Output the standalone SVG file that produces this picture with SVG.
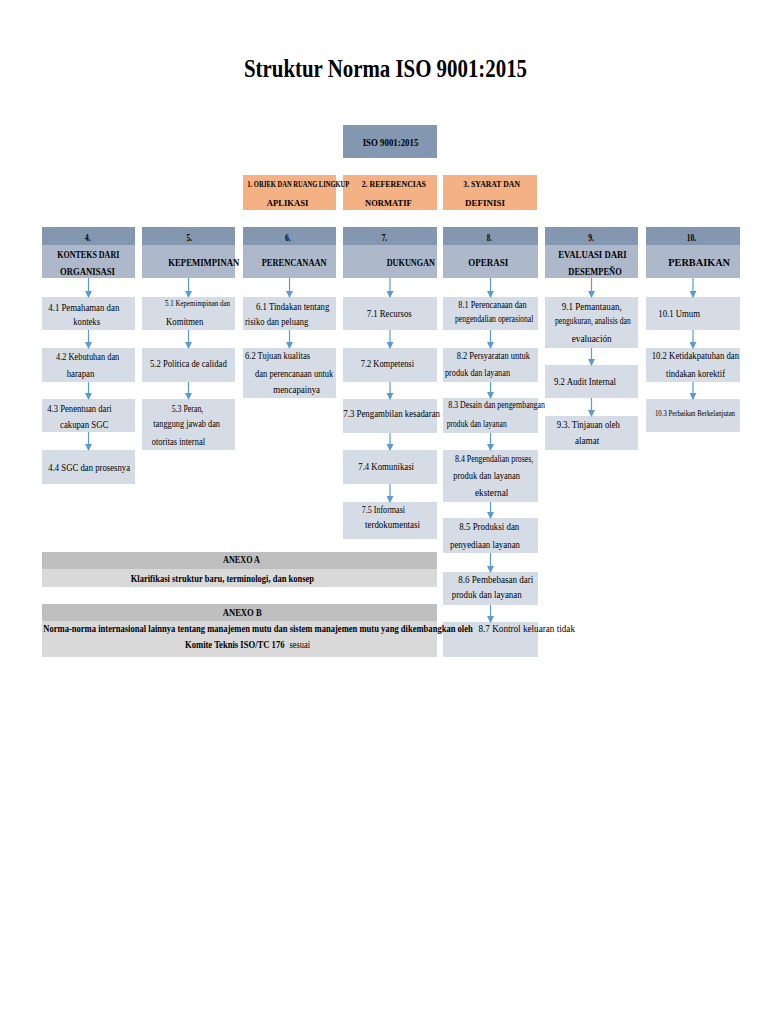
<svg xmlns="http://www.w3.org/2000/svg" width="768" height="1024" viewBox="0 0 768 1024">
<style>
text{font-family:"Liberation Serif","Times New Roman",serif;fill:#000}
.t{font-size:11px}
.s{font-size:7.5px}
.b{font-size:11px;font-weight:bold}
.bs{font-size:9px;font-weight:bold}
.hd{fill:#8497b0}
.hl{fill:#adb9ca}
.sb{fill:#d6dce5}
.or{fill:#f4b183}
.ad{fill:#bfbfbf}
.al{fill:#d9d9d9}
.c line{stroke:#5b9bd5;stroke-width:1.2;marker-end:url(#ah)}
</style>
<defs>
<marker id="ah" markerUnits="userSpaceOnUse" markerWidth="7" markerHeight="7" refX="6" refY="3.5" orient="auto">
<path d="M0,0 L7,3.5 L0,7 z" fill="#5b9bd5"/>
</marker>
</defs>
<rect width="768" height="1024" fill="#fff"/>
<text x="244" y="77" style="font-size:26px;font-weight:bold" textLength="283" lengthAdjust="spacingAndGlyphs">Struktur Norma ISO 9001:2015</text>

<g id="iso">
<rect class="hd" x="343" y="125" width="94" height="33"/>
<text class="b" x="362.7" y="146" textLength="55.6" lengthAdjust="spacingAndGlyphs">ISO 9001:2015</text>
</g>
<g id="n2">
<rect class="or" x="343" y="175" width="94" height="35"/>
<text class="bs" x="361.7" y="186.7" textLength="64.3" lengthAdjust="spacingAndGlyphs">2. REFERENCIAS</text>
<text class="bs" x="365" y="206" textLength="46.7" lengthAdjust="spacingAndGlyphs">NORMATIF</text>
</g>
<g id="n3">
<rect class="or" x="443" y="175" width="94" height="35"/>
<text class="bs" x="463.3" y="186.7" textLength="56.7" lengthAdjust="spacingAndGlyphs">3. SYARAT DAN</text>
<text class="bs" x="465" y="206" textLength="40" lengthAdjust="spacingAndGlyphs">DEFINISI</text>
</g>
<g id="n1">
<rect class="or" x="243" y="175" width="93" height="35"/>
<text class="bs" x="247.3" y="186.7" textLength="102" lengthAdjust="spacingAndGlyphs">1. OBJEK DAN RUANG LINGKUP</text>
<text class="bs" x="266.7" y="206" textLength="41.6" lengthAdjust="spacingAndGlyphs">APLIKASI</text>
</g>

<g id="h4">
<rect class="hd" x="42" y="227" width="93" height="18"/>
<rect class="hl" x="42" y="245" width="93" height="33"/>
<text class="b" x="85" y="241" textLength="5.5" lengthAdjust="spacingAndGlyphs">4.</text>
<text class="b" x="57.3" y="258.3" textLength="62" lengthAdjust="spacingAndGlyphs">KONTEKS DARI</text>
<text class="b" x="60" y="275" textLength="55" lengthAdjust="spacingAndGlyphs">ORGANISASI</text>
</g>
<g id="h5">
<rect class="hd" x="142" y="227" width="93" height="18"/>
<rect class="hl" x="142" y="245" width="93" height="33"/>
<text class="b" x="186.5" y="241" textLength="5.5" lengthAdjust="spacingAndGlyphs">5.</text>
<text class="b" x="168.3" y="265.7" textLength="71" lengthAdjust="spacingAndGlyphs">KEPEMIMPINAN</text>
</g>
<g id="h6">
<rect class="hd" x="243" y="227" width="93" height="18"/>
<rect class="hl" x="243" y="245" width="93" height="33"/>
<text class="b" x="285" y="241" textLength="5.7" lengthAdjust="spacingAndGlyphs">6.</text>
<text class="b" x="261.7" y="265.7" textLength="65" lengthAdjust="spacingAndGlyphs">PERENCANAAN</text>
</g>
<g id="h7">
<rect class="hd" x="343" y="227" width="94" height="18"/>
<rect class="hl" x="343" y="245" width="94" height="33"/>
<text class="b" x="381.7" y="241" textLength="5.5" lengthAdjust="spacingAndGlyphs">7.</text>
<text class="b" x="386.7" y="265.7" textLength="48.3" lengthAdjust="spacingAndGlyphs">DUKUNGAN</text>
</g>
<g id="h8">
<rect class="hd" x="443" y="227" width="95" height="18"/>
<rect class="hl" x="443" y="245" width="95" height="33"/>
<text class="b" x="486.7" y="241" textLength="5" lengthAdjust="spacingAndGlyphs">8.</text>
<text class="b" x="468.3" y="265.7" textLength="40" lengthAdjust="spacingAndGlyphs">OPERASI</text>
</g>
<g id="h9">
<rect class="hd" x="545" y="227" width="93" height="18"/>
<rect class="hl" x="545" y="245" width="93" height="33"/>
<text class="b" x="588.3" y="241" textLength="5.7" lengthAdjust="spacingAndGlyphs">9.</text>
<text class="b" x="558.3" y="258.3" textLength="68.4" lengthAdjust="spacingAndGlyphs">EVALUASI DARI</text>
<text class="b" x="568.3" y="275" textLength="53.4" lengthAdjust="spacingAndGlyphs">DESEMPEÑO</text>
</g>
<g id="h10">
<rect class="hd" x="646" y="227" width="94" height="18"/>
<rect class="hl" x="646" y="245" width="94" height="33"/>
<text class="b" x="686.7" y="241" textLength="9.3" lengthAdjust="spacingAndGlyphs">10.</text>
<text class="b" x="668.3" y="265.7" textLength="61.7" lengthAdjust="spacingAndGlyphs">PERBAIKAN</text>
</g>

<g id="n41">
<rect class="sb" x="42" y="297" width="93" height="33"/>
<text class="t" x="48.3" y="311" textLength="71" lengthAdjust="spacingAndGlyphs">4.1 Pemahaman dan</text>
<text class="t" x="73.3" y="325" textLength="26.7" lengthAdjust="spacingAndGlyphs">konteks</text>
</g>
<g id="n42">
<rect class="sb" x="42" y="348" width="93" height="34"/>
<text class="t" x="56" y="360" textLength="63.3" lengthAdjust="spacingAndGlyphs">4.2 Kebutuhan dan</text>
<text class="t" x="66.7" y="376.7" textLength="27.6" lengthAdjust="spacingAndGlyphs">harapan</text>
</g>
<g id="n43">
<rect class="sb" x="42" y="399" width="93" height="33"/>
<text class="t" x="47.3" y="412" textLength="64.4" lengthAdjust="spacingAndGlyphs">4.3 Penentuan dari</text>
<text class="t" x="60" y="427.7" textLength="48.3" lengthAdjust="spacingAndGlyphs">cakupan SGC</text>
</g>
<g id="n44">
<rect class="sb" x="42" y="450" width="93" height="34"/>
<text class="t" x="48.3" y="471" textLength="81.7" lengthAdjust="spacingAndGlyphs">4.4 SGC dan prosesnya</text>
</g>

<g id="n51">
<rect class="sb" x="142" y="297" width="93" height="33"/>
<text class="s" x="165" y="305.7" textLength="65" lengthAdjust="spacingAndGlyphs">5.1 Kepemimpinan dan</text>
<text class="t" x="166" y="325" textLength="37.3" lengthAdjust="spacingAndGlyphs">Komitmen</text>
</g>
<g id="n52">
<rect class="sb" x="142" y="348" width="93" height="34"/>
<text class="t" x="150" y="366.7" textLength="76.7" lengthAdjust="spacingAndGlyphs">5.2 Politica de calidad</text>
</g>
<g id="n53">
<rect class="sb" x="142" y="399" width="93" height="51"/>
<text class="t" x="171.7" y="411.7" textLength="31.6" lengthAdjust="spacingAndGlyphs">5.3 Peran,</text>
<text class="t" x="153.3" y="426.7" textLength="66.7" lengthAdjust="spacingAndGlyphs">tanggung jawab dan</text>
<text class="t" x="151.7" y="445" textLength="53.3" lengthAdjust="spacingAndGlyphs">otoritas internal</text>
</g>

<g id="n61">
<rect class="sb" x="243" y="297" width="93" height="33"/>
<text class="t" x="256" y="310" textLength="73.3" lengthAdjust="spacingAndGlyphs">6.1 Tindakan tentang</text>
<text class="t" x="245" y="325" textLength="63.3" lengthAdjust="spacingAndGlyphs">risiko dan peluang</text>
</g>
<g id="n62">
<rect class="sb" x="243" y="348" width="93" height="50"/>
<text class="t" x="245" y="359" textLength="65" lengthAdjust="spacingAndGlyphs">6.2 Tujuan kualitas</text>
<text class="t" x="255" y="376.7" textLength="78.3" lengthAdjust="spacingAndGlyphs">dan perencanaan untuk</text>
<text class="t" x="273.3" y="393.3" textLength="46.7" lengthAdjust="spacingAndGlyphs">mencapainya</text>
</g>

<g id="n71">
<rect class="sb" x="343" y="297" width="94" height="33"/>
<text class="t" x="366.7" y="316.7" textLength="45" lengthAdjust="spacingAndGlyphs">7.1 Recursos</text>
</g>
<g id="n72">
<rect class="sb" x="343" y="348" width="94" height="34"/>
<text class="t" x="360.7" y="366.7" textLength="53.3" lengthAdjust="spacingAndGlyphs">7.2 Kompetensi</text>
</g>
<g id="n73">
<rect class="sb" x="343" y="399" width="94" height="34"/>
<text class="t" x="343.3" y="416.7" textLength="96.7" lengthAdjust="spacingAndGlyphs">7.3 Pengambilan kesadaran</text>
</g>
<g id="n74">
<rect class="sb" x="343" y="450" width="94" height="34"/>
<text class="t" x="358.3" y="470" textLength="55.7" lengthAdjust="spacingAndGlyphs">7.4 Komunikasi</text>
</g>
<g id="n75">
<rect class="sb" x="343" y="502" width="94" height="37"/>
<text class="t" x="361.7" y="513.3" textLength="43.3" lengthAdjust="spacingAndGlyphs">7.5 Informasi</text>
<text class="t" x="365" y="528.3" textLength="55" lengthAdjust="spacingAndGlyphs">terdokumentasi</text>
</g>

<g id="n81">
<rect class="sb" x="443" y="297" width="95" height="33"/>
<text class="t" x="458.3" y="308.3" textLength="68.4" lengthAdjust="spacingAndGlyphs">8.1 Perencanaan dan</text>
<text class="t" x="455" y="322.3" textLength="78.3" lengthAdjust="spacingAndGlyphs">pengendalian operasional</text>
</g>
<g id="n82">
<rect class="sb" x="443" y="348" width="95" height="34"/>
<text class="t" x="456.7" y="359" textLength="73.3" lengthAdjust="spacingAndGlyphs">8.2 Persyaratan untuk</text>
<text class="t" x="445" y="375.7" textLength="65" lengthAdjust="spacingAndGlyphs">produk dan layanan</text>
</g>
<g id="n83">
<rect class="sb" x="443" y="398" width="95" height="35"/>
<text class="t" x="448.3" y="408.3" textLength="96.7" lengthAdjust="spacingAndGlyphs">8.3 Desain dan pengembangan</text>
<text class="t" x="446.7" y="426.7" textLength="60" lengthAdjust="spacingAndGlyphs">produk dan layanan</text>
</g>
<g id="n84">
<rect class="sb" x="443" y="450" width="95" height="52"/>
<text class="t" x="455" y="461.7" textLength="78.3" lengthAdjust="spacingAndGlyphs">8.4 Pengendalian proses,</text>
<text class="t" x="453.3" y="479" textLength="66.7" lengthAdjust="spacingAndGlyphs">produk dan layanan</text>
<text class="t" x="475" y="495.7" textLength="33.3" lengthAdjust="spacingAndGlyphs">eksternal</text>
</g>
<g id="n85">
<rect class="sb" x="443" y="518" width="95" height="35"/>
<text class="t" x="459.3" y="530" textLength="60" lengthAdjust="spacingAndGlyphs">8.5 Produksi dan</text>
<text class="t" x="450" y="548" textLength="70" lengthAdjust="spacingAndGlyphs">penyediaan layanan</text>
</g>
<g id="n86">
<rect class="sb" x="443" y="572" width="95" height="33"/>
<text class="t" x="458.3" y="583.3" textLength="75" lengthAdjust="spacingAndGlyphs">8.6 Pembebasan dari</text>
<text class="t" x="451.7" y="598.3" textLength="70" lengthAdjust="spacingAndGlyphs">produk dan layanan</text>
</g>
<g id="n87">
<rect class="sb" x="443" y="622" width="95" height="35"/>
<text class="t" x="478.5" y="631.5" textLength="96.5" lengthAdjust="spacingAndGlyphs">8.7 Kontrol keluaran tidak</text>
</g>

<g id="n91">
<rect class="sb" x="545" y="297" width="93" height="51"/>
<text class="t" x="561.7" y="310" textLength="60" lengthAdjust="spacingAndGlyphs">9.1 Pemantauan,</text>
<text class="t" x="555" y="324.3" textLength="75.7" lengthAdjust="spacingAndGlyphs">pengukuran, analisis dan</text>
<text class="t" x="571.7" y="342.3" textLength="40" lengthAdjust="spacingAndGlyphs">evaluación</text>
</g>
<g id="n92">
<rect class="sb" x="545" y="365" width="93" height="33"/>
<text class="t" x="554" y="385" textLength="62" lengthAdjust="spacingAndGlyphs">9.2 Audit Internal</text>
</g>
<g id="n93">
<rect class="sb" x="545" y="416" width="93" height="34"/>
<text class="t" x="556.7" y="427.7" textLength="63.3" lengthAdjust="spacingAndGlyphs">9.3. Tinjauan oleh</text>
<text class="t" x="575" y="444.3" textLength="24.3" lengthAdjust="spacingAndGlyphs">alamat</text>
</g>

<g id="n101">
<rect class="sb" x="646" y="297" width="94" height="33"/>
<text class="t" x="658.3" y="316.7" textLength="41.7" lengthAdjust="spacingAndGlyphs">10.1 Umum</text>
</g>
<g id="n102">
<rect class="sb" x="646" y="348" width="94" height="34"/>
<text class="t" x="651.7" y="359" textLength="87.3" lengthAdjust="spacingAndGlyphs">10.2 Ketidakpatuhan dan</text>
<text class="t" x="666" y="376.7" textLength="59" lengthAdjust="spacingAndGlyphs">tindakan korektif</text>
</g>
<g id="n103">
<rect class="sb" x="646" y="399" width="94" height="33"/>
<text class="s" x="655" y="415.7" textLength="80" lengthAdjust="spacingAndGlyphs">10.3 Perbaikan Berkelanjutan</text>
</g>

<g id="anexoA">
<rect class="ad" x="42" y="552" width="395" height="17"/>
<rect class="al" x="42" y="569" width="395" height="18"/>
<text class="b" x="223" y="563.3" textLength="37" lengthAdjust="spacingAndGlyphs">ANEXO A</text>
<text class="b" x="130.7" y="581.7" textLength="183.3" lengthAdjust="spacingAndGlyphs">Klarifikasi struktur baru, terminologi, dan konsep</text>
</g>
<g id="anexoB">
<rect class="ad" x="42" y="604" width="395" height="17"/>
<rect class="al" x="42" y="621" width="395" height="36"/>
<text class="b" x="222.7" y="615.7" textLength="39" lengthAdjust="spacingAndGlyphs">ANEXO B</text>
<text class="b" x="43.3" y="631.5" textLength="429.5" lengthAdjust="spacingAndGlyphs">Norma-norma internasional lainnya tentang manajemen mutu dan sistem manajemen mutu yang dikembangkan oleh</text>
<text class="b" x="185" y="648" textLength="99.5" lengthAdjust="spacingAndGlyphs">Komite Teknis ISO/TC 176</text>
<text class="t" x="289.5" y="648" textLength="20.5" lengthAdjust="spacingAndGlyphs">sesuai</text>
</g>

<g id="connectors" class="c">
<line x1="88.5" y1="278" x2="88.5" y2="297"/>
<line x1="188.5" y1="278" x2="188.5" y2="297"/>
<line x1="289.5" y1="278" x2="289.5" y2="297"/>
<line x1="390" y1="278" x2="390" y2="297"/>
<line x1="490.5" y1="278" x2="490.5" y2="297"/>
<line x1="591.5" y1="278" x2="591.5" y2="297"/>
<line x1="693" y1="278" x2="693" y2="297"/>
<line x1="88.5" y1="330" x2="88.5" y2="348"/>
<line x1="88.5" y1="382" x2="88.5" y2="399"/>
<line x1="88.5" y1="432" x2="88.5" y2="450"/>
<line x1="188.5" y1="330" x2="188.5" y2="348"/>
<line x1="188.5" y1="382" x2="188.5" y2="399"/>
<line x1="289.5" y1="330" x2="289.5" y2="348"/>
<line x1="390" y1="330" x2="390" y2="348"/>
<line x1="390" y1="382" x2="390" y2="399"/>
<line x1="390" y1="433" x2="390" y2="450"/>
<line x1="390" y1="484" x2="390" y2="502"/>
<line x1="490.5" y1="330" x2="490.5" y2="348"/>
<line x1="490.5" y1="382" x2="490.5" y2="398"/>
<line x1="490.5" y1="433" x2="490.5" y2="450"/>
<line x1="490.5" y1="502" x2="490.5" y2="518"/>
<line x1="490.5" y1="553" x2="490.5" y2="572"/>
<line x1="490.5" y1="605" x2="490.5" y2="622"/>
<line x1="591.5" y1="348" x2="591.5" y2="365"/>
<line x1="591.5" y1="398" x2="591.5" y2="416"/>
<line x1="693" y1="330" x2="693" y2="348"/>
<line x1="693" y1="382" x2="693" y2="399"/>
</g>
</svg>
